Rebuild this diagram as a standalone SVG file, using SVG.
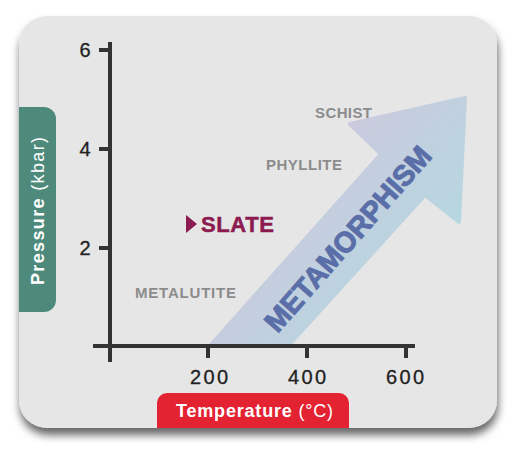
<svg xmlns="http://www.w3.org/2000/svg" width="524" height="450" viewBox="0 0 524 450">
<defs>
<filter id="sh" x="-10%" y="-10%" width="120%" height="125%"><feDropShadow dx="1" dy="7" stdDeviation="4" flood-color="#000" flood-opacity="0.6"/></filter>
<linearGradient id="ag" x1="330" y1="140" x2="450" y2="240" gradientUnits="userSpaceOnUse"><stop offset="0" stop-color="#cbcadd"/><stop offset="1" stop-color="#b5d7e1"/></linearGradient>
<clipPath id="cc"><rect x="19" y="16" width="478" height="412" rx="28"/></clipPath>
<style>
text{font-family:"Liberation Sans",Arial,sans-serif}
.ax{stroke:#333;stroke-width:4;fill:none}
.tk{font-size:20px;fill:#222;text-anchor:middle;stroke:#222;stroke-width:0.3}
.rk{font-size:15px;font-weight:bold;fill:#8c8c8c}
.lab{font-size:18px;fill:#fff}
</style>
</defs>
<rect width="524" height="450" fill="#fff"/>
<g id="card">
<rect x="19" y="16" width="478" height="412" rx="28" fill="#e6e6e6" filter="url(#sh)"/>
</g>
<g clip-path="url(#cc)">
<g id="pressure-label">
<path d="M19 107 H44 A12 12 0 0 1 56 119 V300 A12 12 0 0 1 44 312 H19 Z" fill="#4e8a7c"/>
<text class="lab" transform="translate(43.5 211) rotate(-90)" text-anchor="middle" textLength="148" lengthAdjust="spacing"><tspan font-weight="bold">Pressure</tspan> (kbar)</text>
</g>
<g id="temperature-label">
<path d="M157 428 V403 A10 10 0 0 1 167 393 H339 A10 10 0 0 1 349 403 V428 Z" fill="#e32232"/>
<text class="lab" x="254.5" y="417" text-anchor="middle" textLength="157" lengthAdjust="spacing"><tspan font-weight="bold">Temperature</tspan> (°C)</text>
</g>
</g>
<g id="metamorphism-arrow">
<path d="M210 346 L381 154 L350 124 L465 98 L459 222 L425 195 L288 346 Z" fill="url(#ag)" stroke="url(#ag)" stroke-width="4" stroke-linejoin="round"/>
<text transform="translate(347.5 238.5) rotate(-48.7)" y="10.5" text-anchor="middle" font-size="29" font-weight="bold" fill="#5a6ea8" stroke="#5a6ea8" stroke-width="1" textLength="236" lengthAdjust="spacingAndGlyphs">METAMORPHISM</text>
</g>
<g id="connectors">
<path class="ax" d="M110 42 V362"/>
<path class="ax" d="M93 346 H415"/>
<path class="ax" d="M99 50 H110 M99 149 H110 M99 248 H110"/>
<path class="ax" d="M208 346 V358 M307 346 V358 M406 346 V358"/>
</g>
<g id="ticks">
<text class="tk" x="85" y="57">6</text>
<text class="tk" x="85" y="156">4</text>
<text class="tk" x="85" y="255">2</text>
<text class="tk" x="209" y="384" textLength="38" lengthAdjust="spacing">200</text>
<text class="tk" x="307" y="384" textLength="38" lengthAdjust="spacing">400</text>
<text class="tk" x="405" y="384" textLength="38" lengthAdjust="spacing">600</text>
</g>
<g id="schist"><text class="rk" x="315" y="118" textLength="57" lengthAdjust="spacing">SCHIST</text></g>
<g id="phyllite"><text class="rk" x="266" y="170" textLength="76" lengthAdjust="spacing">PHYLLITE</text></g>
<g id="slate">
<path d="M186 215 L197 224 L186 233 Z" fill="#8b1a4f"/>
<text x="201" y="232" font-size="22" font-weight="bold" fill="#8b1a4f" stroke="#8b1a4f" stroke-width="0.5" textLength="73" lengthAdjust="spacing">SLATE</text>
</g>
<g id="metalutite"><text class="rk" x="135" y="298" textLength="101" lengthAdjust="spacing">METALUTITE</text></g>
</svg>
